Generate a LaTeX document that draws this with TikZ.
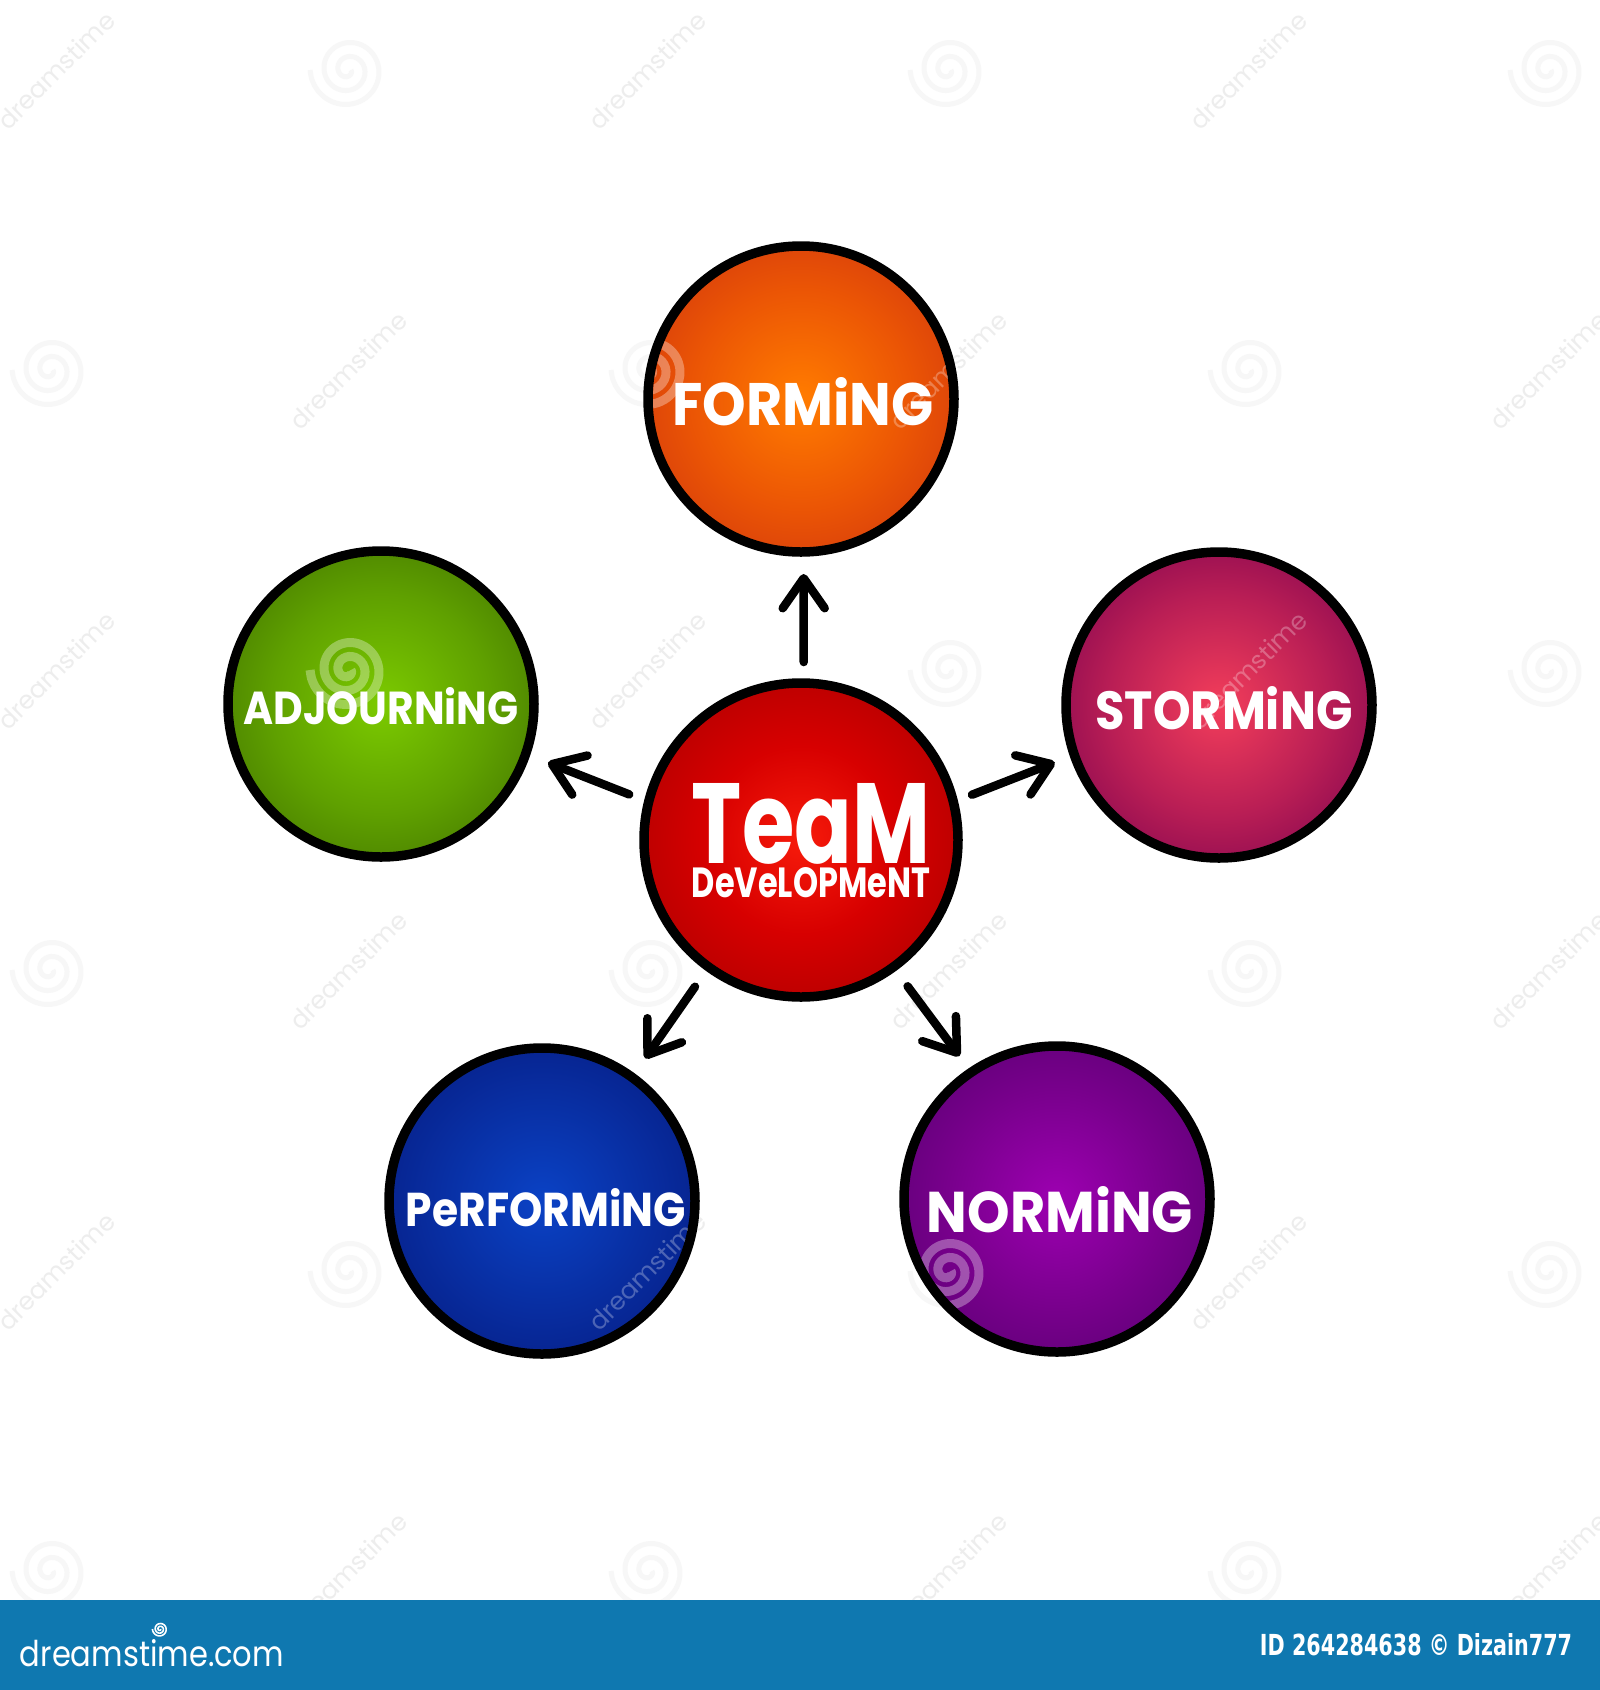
\documentclass[tikz,border=0pt]{standalone}
\usepackage{graphicx}
\usepackage{fontspec}
\setmainfont{Poppins}
\newfontfamily\footfont{DejaVu Sans}
\usetikzlibrary{arrows.meta}
\definecolor{barblue}{RGB}{15,120,176}
\newcommand\mkglow[7]{%
  \definecolor{#1a}{RGB}{#2}\definecolor{#1b}{RGB}{#3}\definecolor{#1c}{RGB}{#4}%
  \pgfdeclareradialshading{#1}{\pgfpointorigin}{color(0bp)=(#1a);color(#5bp)=(#1a);color(#6bp)=(#1b);color(#7bp)=(#1c);color(50bp)=(#1c)}}
\mkglow{glowform}{255,122,0}{235,85,5}{205,50,15}{1}{18}{35}
\mkglow{glowstorm}{240,60,90}{185,30,85}{120,0,78}{1}{18}{35}
\mkglow{glownorm}{155,0,175}{120,0,140}{85,0,110}{1}{18}{35}
\mkglow{glowperf}{10,65,195}{8,45,160}{5,25,125}{1}{18}{35}
\mkglow{glowadj}{122,200,0}{95,160,0}{62,110,0}{1}{18}{35}
\mkglow{glowteam}{245,25,10}{215,0,0}{165,0,0}{1}{15}{35}
% text sized to a given box and offset from the node centre: w h dx dy text
\newcommand\fitlabel[5]{\raisebox{\dimexpr -#4pt - #2pt/2\relax}[0pt][0pt]{\makebox[0pt][c]{\hspace*{\dimexpr #3pt*2\relax}\resizebox{#1pt}{#2pt}{\bfseries #5}}}}
\newcommand\wmspiral[4][35]{\draw[#4] plot[smooth,domain=0:900,samples=70,variable=\t] ({#2+(#1/12+\t/900*#1)*cos(\t)},{#3+(#1/12+\t/900*#1)*sin(\t)});}
\newcommand\wmspirals[1]{%
  \foreach \yy in {70,670,1271}{\foreach \xx in {348,948,1548}{\wmspiral{\xx}{\yy}{#1}}}%
  \foreach \yy in {370,970,1571}{\foreach \xx in {50,649,1248}{\wmspiral{\xx}{\yy}{#1}}}}
\tikzset{
  stage/.style={circle,draw=black,line width=9.5pt,minimum size=306pt,inner sep=0pt,outer sep=0pt,text=white,shade},
  hub/.style={stage,minimum size=314pt,shading=glowteam},
  conn/.style={line width=8.5pt,line cap=round,-{Straight Barb[length=30pt,width=42pt,round]}},
  wmlight/.style={line width=5pt,black!3},
  wmtextlight/.style={rotate=45,text=black!7,font=\fontsize{25}{25}\selectfont},
  wmover/.style={line width=9pt,white,opacity=.32},
  wmtextover/.style={rotate=45,text=white,opacity=.28,font=\fontsize{25}{25}\selectfont},
  foot/.style={text=white,inner sep=0pt},
}
\begin{document}
\begin{tikzpicture}[x=1pt,y=-1pt]
\useasboundingbox (0,0) rectangle (1600,1690);
\fill[white] (0,0) rectangle (1600,1690);
\wmspirals{wmlight}
\foreach \yy in {70,670,1271}{\foreach \xx in {56,647,1248}{\node[wmtextlight] (wm\xx x\yy) at (\xx,\yy) {dreamstime};}}
\foreach \yy in {370,970,1571}{\foreach \xx in {348,948,1548}{\node[wmtextlight] (wm\xx x\yy) at (\xx,\yy) {dreamstime};}}
\node[hub] (team) at (801,840) {\fitlabel{238}{80}{10}{-17}{TeaM}\fitlabel{238}{30}{10}{42}{DeVeLOPMeNT}};
\node[stage,shading=glowform] (forming) at (801,399) {\fitlabel{261}{48}{2}{2}{FORMiNG}};
\node[stage,shading=glowstorm] (storming) at (1219,705) {\fitlabel{257}{43}{5}{3}{STORMiNG}};
\node[stage,shading=glownorm] (norming) at (1057,1199) {\fitlabel{266}{46}{3}{10}{NORMiNG}};
\node[stage,shading=glowperf] (performing) at (542,1201) {\fitlabel{280}{38}{4}{6}{PeRFORMiNG}};
\node[stage,shading=glowadj] (adjourning) at (381,704) {\fitlabel{275}{37}{0}{2}{ADJOURNiNG}};
\begin{scope}
\clip (801,840) circle (152) (801,399) circle (148) (1219,705) circle (148)
      (1057,1199) circle (148) (542,1201) circle (148) (381,704) circle (148);
\wmspirals{wmover}
\node[wmtextover] (wmoverform) at (948,370) {dreamstime};
\node[wmtextover] (wmoverstorm) at (1248,670) {dreamstime};
\node[wmtextover] (wmoverperf) at (647,1271) {dreamstime};
\end{scope}
\draw[conn,shorten <=21pt,shorten >=22pt] (team.89) -- (forming.-89);
\draw[conn,shorten <=20pt,shorten >=21pt] (team.14) -- (storming.199.5);
\draw[conn,shorten <=24pt,shorten >=20pt] (team.-54.9) -- (norming.124.9);
\draw[conn,shorten <=24pt,shorten >=23pt] (team.234.9) -- (performing.54.9);
\draw[conn,shorten <=21pt,shorten >=24pt] (team.166) -- (adjourning.-19.5);
\fill[barblue] (0,1600) rectangle (1600,1690);
\node[foot] (brand) at (152,1653) {\resizebox{264pt}{27pt}{dreamstime.com}};
\wmspiral[7]{160}{1629}{white,line width=1.6pt}
\node[foot] (credit) at (1416,1645) {\resizebox{312pt}{22pt}{\footfont\bfseries ID 264284638 © Dizain777}};
\end{tikzpicture}
\end{document}
